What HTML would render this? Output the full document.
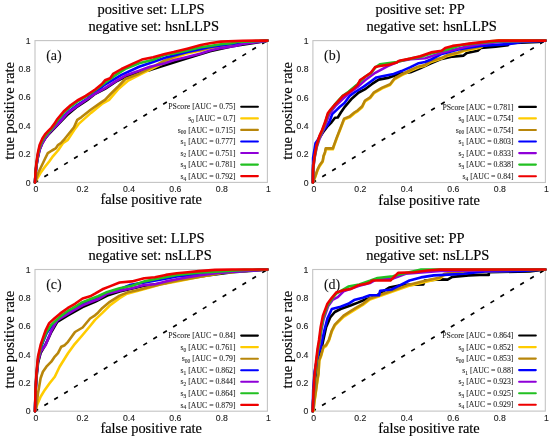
<!DOCTYPE html><html><head><meta charset="utf-8"><style>html,body{margin:0;padding:0;background:#fff;}svg{display:block;filter:blur(0.3px);}</style></head><body>
<svg width="550" height="438" viewBox="0 0 550 438">
<rect width="550" height="438" fill="#fff"/>
<text x="97.5" y="14.2" font-family="Liberation Serif" font-size="14.5" fill="#000" stroke="#000" stroke-width="0.15">positive set: LLPS</text>
<text x="88.5" y="31.3" font-family="Liberation Serif" font-size="14.5" fill="#000" stroke="#000" stroke-width="0.15">negative set: hsnLLPS</text>
<rect x="35.0" y="40.6" width="232.4" height="141.8" fill="none" stroke="#c4c4c4" stroke-width="1.1"/>
<text x="30.7" y="185.5" font-family="Liberation Sans" font-size="8.7" fill="#222" stroke="#222" stroke-width="0.12" text-anchor="end">0</text>
<text x="30.7" y="157.2" font-family="Liberation Sans" font-size="8.7" fill="#222" stroke="#222" stroke-width="0.12" text-anchor="end">0.2</text>
<text x="30.7" y="128.8" font-family="Liberation Sans" font-size="8.7" fill="#222" stroke="#222" stroke-width="0.12" text-anchor="end">0.4</text>
<text x="30.7" y="100.4" font-family="Liberation Sans" font-size="8.7" fill="#222" stroke="#222" stroke-width="0.12" text-anchor="end">0.6</text>
<text x="30.7" y="72.1" font-family="Liberation Sans" font-size="8.7" fill="#222" stroke="#222" stroke-width="0.12" text-anchor="end">0.8</text>
<text x="30.7" y="43.7" font-family="Liberation Sans" font-size="8.7" fill="#222" stroke="#222" stroke-width="0.12" text-anchor="end">1</text>
<text x="36.0" y="192.0" font-family="Liberation Sans" font-size="8.7" fill="#222" stroke="#222" stroke-width="0.12" text-anchor="middle">0</text>
<text x="82.5" y="192.0" font-family="Liberation Sans" font-size="8.7" fill="#222" stroke="#222" stroke-width="0.12" text-anchor="middle">0.2</text>
<text x="129.0" y="192.0" font-family="Liberation Sans" font-size="8.7" fill="#222" stroke="#222" stroke-width="0.12" text-anchor="middle">0.4</text>
<text x="175.4" y="192.0" font-family="Liberation Sans" font-size="8.7" fill="#222" stroke="#222" stroke-width="0.12" text-anchor="middle">0.6</text>
<text x="221.9" y="192.0" font-family="Liberation Sans" font-size="8.7" fill="#222" stroke="#222" stroke-width="0.12" text-anchor="middle">0.8</text>
<text x="268.4" y="192.0" font-family="Liberation Sans" font-size="8.7" fill="#222" stroke="#222" stroke-width="0.12" text-anchor="middle">1</text>
<text x="151.2" y="204.4" font-family="Liberation Serif" font-size="14.4" fill="#000" stroke="#000" stroke-width="0.15" text-anchor="middle">false positive rate</text>
<text transform="translate(13.8,110.8) rotate(-90)" x="0" y="0" font-family="Liberation Serif" font-size="14.55" fill="#000" stroke="#000" stroke-width="0.15" text-anchor="middle">true positive rate</text>
<text x="46.2" y="59.8" font-family="Liberation Serif" font-size="14" fill="#111" stroke="#111" stroke-width="0.1">(a)</text>
<line x1="35.0" y1="182.4" x2="267.4" y2="40.6" stroke="#000" stroke-width="1.7" stroke-dasharray="4.3 7.3" stroke-dashoffset="0.65"/>
<path d="M35.0,182.4 L35.5,174.5 L36.4,166.1 L37.8,157.6 L39.6,149.8 L42.4,143.0 L45.0,138.8 L47.8,135.2 L50.0,132.8 L58.2,124.3 L67.8,114.4 L77.3,106.6 L87.1,100.2 L95.2,93.8 L105.0,88.8 L115.9,81.7 L125.4,76.8 L139.1,71.8 L150.0,70.1 L164.9,65.3 L187.2,58.3 L210.0,51.2 L232.5,46.3 L255.8,42.7 L267.4,40.6" fill="none" stroke="#000000" stroke-width="2.6" stroke-linejoin="round" stroke-linecap="round"/>
<path d="M35.0,182.4 L37.1,178.9 L41.0,172.2 L45.0,166.8 L49.2,161.5 L53.1,156.1 L58.0,150.5 L62.9,143.2 L67.8,139.9 L74.0,130.2 L78.7,123.9 L91.0,112.9 L101.9,104.0 L109.1,99.8 L118.7,88.7 L128.2,80.5 L141.9,73.7 L153.1,68.1 L164.9,62.6 L173.7,58.3 L187.2,53.4 L200.9,50.5 L210.0,47.7 L220.9,46.0 L231.6,44.3 L244.2,42.7 L267.4,40.6" fill="none" stroke="#ffcc00" stroke-width="2.6" stroke-linejoin="round" stroke-linecap="round"/>
<path d="M35.0,182.4 L35.5,181.0 L38.5,172.2 L42.4,164.2 L45.0,158.8 L47.8,153.2 L52.0,150.5 L55.7,148.4 L58.0,145.1 L61.3,142.7 L63.6,140.2 L74.0,127.3 L77.3,119.8 L81.5,117.1 L91.0,109.5 L101.9,101.9 L105.0,99.8 L110.1,94.5 L113.1,91.5 L118.7,86.0 L125.4,79.0 L139.1,73.7 L153.1,66.7 L164.9,60.5 L173.7,56.9 L187.2,52.1 L200.9,50.0 L210.0,47.7 L220.9,46.0 L231.6,44.3 L244.2,42.7 L267.4,40.6" fill="none" stroke="#b8860b" stroke-width="2.6" stroke-linejoin="round" stroke-linecap="round"/>
<path d="M35.0,182.4 L35.5,173.9 L36.4,165.1 L37.8,156.2 L39.6,148.4 L42.4,141.7 L45.0,137.5 L47.8,134.2 L50.0,131.4 L58.2,122.9 L67.8,112.2 L77.3,105.1 L87.1,98.8 L95.2,92.4 L105.0,84.6 L121.5,74.9 L139.1,66.7 L153.1,61.9 L164.9,57.8 L187.2,51.9 L210.0,47.0 L232.5,43.7 L267.4,40.6" fill="none" stroke="#0000ff" stroke-width="2.6" stroke-linejoin="round" stroke-linecap="round"/>
<path d="M35.0,182.4 L35.5,174.5 L36.4,166.1 L37.8,157.6 L39.6,149.8 L42.4,143.0 L45.0,138.8 L47.8,134.9 L50.0,132.1 L58.2,123.9 L67.8,112.9 L77.3,106.0 L87.1,99.2 L95.2,93.7 L105.0,88.1 L115.9,81.2 L125.4,75.6 L139.1,70.8 L150.0,66.7 L160.0,64.4 L164.9,63.3 L173.7,60.3 L187.2,56.9 L200.9,53.5 L210.0,50.4 L220.9,48.1 L235.1,46.0 L242.5,43.9 L259.0,42.0 L267.4,40.6" fill="none" stroke="#8f00d8" stroke-width="2.6" stroke-linejoin="round" stroke-linecap="round"/>
<path d="M35.0,182.4 L35.5,173.1 L36.4,164.0 L37.8,154.8 L39.6,147.0 L42.4,140.3 L45.0,136.1 L47.8,132.8 L51.3,129.3 L56.8,121.5 L63.6,112.9 L70.6,106.6 L77.3,101.6 L85.7,96.6 L95.2,90.2 L105.0,82.6 L115.9,74.9 L125.4,68.8 L139.1,63.3 L153.1,59.7 L164.9,54.9 L173.7,53.4 L187.2,50.5 L200.9,47.3 L210.0,46.0 L220.9,44.3 L231.6,43.2 L237.2,42.0 L267.4,40.6" fill="none" stroke="#22c022" stroke-width="2.6" stroke-linejoin="round" stroke-linecap="round"/>
<path d="M35.0,182.4 L35.5,172.2 L36.4,162.7 L37.8,153.2 L39.6,145.1 L42.4,138.5 L45.0,134.4 L47.8,131.4 L51.3,127.8 L54.5,123.6 L56.8,119.8 L63.6,111.5 L70.6,105.3 L77.3,100.5 L85.7,95.8 L95.2,89.5 L101.9,84.0 L105.0,80.3 L110.1,78.2 L113.1,73.9 L121.5,69.0 L132.4,63.9 L141.9,59.6 L153.1,57.3 L164.9,54.1 L173.7,52.1 L187.2,48.7 L200.9,45.1 L210.0,43.2 L220.9,41.6 L242.5,40.7 L267.4,40.6" fill="none" stroke="#ee0000" stroke-width="2.6" stroke-linejoin="round" stroke-linecap="round"/>
<line x1="241.2" y1="106.8" x2="257.9" y2="106.8" stroke="#000000" stroke-width="2.1" stroke-linecap="round"/>
<text x="235.5" y="109.4" font-family="Liberation Serif" font-size="7.75" fill="#222" stroke="#222" stroke-width="0.08" text-anchor="end">PScore [AUC = 0.75]</text>
<line x1="241.2" y1="118.4" x2="257.9" y2="118.4" stroke="#ffcc00" stroke-width="2.1" stroke-linecap="round"/>
<text x="235.5" y="121.0" font-family="Liberation Serif" font-size="7.75" fill="#222" stroke="#222" stroke-width="0.08" text-anchor="end">s<tspan font-size="5.5" dy="1.8">0</tspan><tspan dy="-1.8"> [AUC = 0.7]</tspan></text>
<line x1="241.2" y1="129.9" x2="257.9" y2="129.9" stroke="#b8860b" stroke-width="2.1" stroke-linecap="round"/>
<text x="235.5" y="132.5" font-family="Liberation Serif" font-size="7.75" fill="#222" stroke="#222" stroke-width="0.08" text-anchor="end">s<tspan font-size="5.5" dy="1.8">00</tspan><tspan dy="-1.8"> [AUC = 0.715]</tspan></text>
<line x1="241.2" y1="141.5" x2="257.9" y2="141.5" stroke="#0000ff" stroke-width="2.1" stroke-linecap="round"/>
<text x="235.5" y="144.1" font-family="Liberation Serif" font-size="7.75" fill="#222" stroke="#222" stroke-width="0.08" text-anchor="end">s<tspan font-size="5.5" dy="1.8">1</tspan><tspan dy="-1.8"> [AUC = 0.777]</tspan></text>
<line x1="241.2" y1="153.0" x2="257.9" y2="153.0" stroke="#8f00d8" stroke-width="2.1" stroke-linecap="round"/>
<text x="235.5" y="155.6" font-family="Liberation Serif" font-size="7.75" fill="#222" stroke="#222" stroke-width="0.08" text-anchor="end">s<tspan font-size="5.5" dy="1.8">2</tspan><tspan dy="-1.8"> [AUC = 0.751]</tspan></text>
<line x1="241.2" y1="164.6" x2="257.9" y2="164.6" stroke="#22c022" stroke-width="2.1" stroke-linecap="round"/>
<text x="235.5" y="167.2" font-family="Liberation Serif" font-size="7.75" fill="#222" stroke="#222" stroke-width="0.08" text-anchor="end">s<tspan font-size="5.5" dy="1.8">3</tspan><tspan dy="-1.8"> [AUC = 0.781]</tspan></text>
<line x1="241.2" y1="176.1" x2="257.9" y2="176.1" stroke="#ee0000" stroke-width="2.1" stroke-linecap="round"/>
<text x="235.5" y="178.7" font-family="Liberation Serif" font-size="7.75" fill="#222" stroke="#222" stroke-width="0.08" text-anchor="end">s<tspan font-size="5.5" dy="1.8">4</tspan><tspan dy="-1.8"> [AUC = 0.792]</tspan></text>
<text x="375.4" y="14.2" font-family="Liberation Serif" font-size="14.5" fill="#000" stroke="#000" stroke-width="0.15">positive set: PP</text>
<text x="366.4" y="31.3" font-family="Liberation Serif" font-size="14.5" fill="#000" stroke="#000" stroke-width="0.15">negative set: hsnLLPS</text>
<rect x="312.9" y="40.6" width="232.5" height="141.9" fill="none" stroke="#c4c4c4" stroke-width="1.1"/>
<text x="308.6" y="185.6" font-family="Liberation Sans" font-size="8.7" fill="#222" stroke="#222" stroke-width="0.12" text-anchor="end">0</text>
<text x="308.6" y="157.2" font-family="Liberation Sans" font-size="8.7" fill="#222" stroke="#222" stroke-width="0.12" text-anchor="end">0.2</text>
<text x="308.6" y="128.8" font-family="Liberation Sans" font-size="8.7" fill="#222" stroke="#222" stroke-width="0.12" text-anchor="end">0.4</text>
<text x="308.6" y="100.5" font-family="Liberation Sans" font-size="8.7" fill="#222" stroke="#222" stroke-width="0.12" text-anchor="end">0.6</text>
<text x="308.6" y="72.1" font-family="Liberation Sans" font-size="8.7" fill="#222" stroke="#222" stroke-width="0.12" text-anchor="end">0.8</text>
<text x="308.6" y="43.7" font-family="Liberation Sans" font-size="8.7" fill="#222" stroke="#222" stroke-width="0.12" text-anchor="end">1</text>
<text x="313.9" y="192.1" font-family="Liberation Sans" font-size="8.7" fill="#222" stroke="#222" stroke-width="0.12" text-anchor="middle">0</text>
<text x="360.4" y="192.1" font-family="Liberation Sans" font-size="8.7" fill="#222" stroke="#222" stroke-width="0.12" text-anchor="middle">0.2</text>
<text x="406.9" y="192.1" font-family="Liberation Sans" font-size="8.7" fill="#222" stroke="#222" stroke-width="0.12" text-anchor="middle">0.4</text>
<text x="453.4" y="192.1" font-family="Liberation Sans" font-size="8.7" fill="#222" stroke="#222" stroke-width="0.12" text-anchor="middle">0.6</text>
<text x="499.9" y="192.1" font-family="Liberation Sans" font-size="8.7" fill="#222" stroke="#222" stroke-width="0.12" text-anchor="middle">0.8</text>
<text x="546.4" y="192.1" font-family="Liberation Sans" font-size="8.7" fill="#222" stroke="#222" stroke-width="0.12" text-anchor="middle">1</text>
<text x="429.1" y="204.5" font-family="Liberation Serif" font-size="14.4" fill="#000" stroke="#000" stroke-width="0.15" text-anchor="middle">false positive rate</text>
<text transform="translate(291.7,110.8) rotate(-90)" x="0" y="0" font-family="Liberation Serif" font-size="14.55" fill="#000" stroke="#000" stroke-width="0.15" text-anchor="middle">true positive rate</text>
<text x="324.1" y="59.8" font-family="Liberation Serif" font-size="14" fill="#111" stroke="#111" stroke-width="0.1">(b)</text>
<line x1="312.9" y1="182.5" x2="545.4" y2="40.6" stroke="#000" stroke-width="1.7" stroke-dasharray="4.3 7.3" stroke-dashoffset="0.65"/>
<path d="M312.9,182.5 L313.1,165.5 L315.5,147.0 L318.2,139.9 L322.7,132.8 L327.8,126.0 L331.5,122.3 L335.0,117.8 L337.8,117.5 L341.0,112.3 L345.0,106.6 L352.0,98.4 L358.7,92.5 L365.7,88.8 L371.7,84.2 L378.7,79.6 L387.8,77.9 L399.2,73.9 L410.5,72.2 L420.1,68.3 L431.0,63.3 L441.7,58.9 L452.6,56.6 L463.6,55.6 L466.8,52.9 L477.7,50.7 L480.8,48.0 L495.6,46.6 L508.0,45.1 L509.1,43.2 L538.4,42.0 L545.4,40.6" fill="none" stroke="#000000" stroke-width="2.6" stroke-linejoin="round" stroke-linecap="round"/>
<path d="M312.9,182.5 L313.1,182.2 L315.5,176.4 L317.5,170.4 L319.6,166.2 L322.7,161.8 L323.6,156.5 L325.0,153.0 L325.7,149.3 L332.9,149.3 L333.8,146.5 L336.8,138.2 L340.8,128.0 L344.1,119.5 L349.6,117.4 L354.3,113.4 L357.8,111.1 L362.2,107.2 L365.0,101.3 L370.1,98.2 L374.0,93.1 L382.2,88.4 L390.1,85.0 L394.5,79.3 L401.5,75.4 L410.5,70.8 L418.7,67.3 L425.0,65.7 L431.0,61.9 L441.7,58.6 L447.3,55.9 L458.2,53.2 L463.6,51.1 L480.1,47.7 L485.2,44.4 L489.6,42.2 L498.9,40.6 L545.4,40.6" fill="none" stroke="#ffcc00" stroke-width="2.6" stroke-linejoin="round" stroke-linecap="round"/>
<path d="M312.9,182.5 L313.1,181.4 L315.5,175.5 L317.5,169.6 L319.6,165.3 L322.7,160.9 L323.6,155.7 L325.0,152.1 L325.7,148.4 L332.9,148.4 L333.8,145.6 L336.8,137.4 L340.8,127.2 L344.1,118.6 L349.6,116.5 L354.3,112.5 L357.8,110.3 L362.2,106.3 L365.0,100.5 L370.1,97.4 L374.0,92.3 L382.2,87.6 L390.1,84.2 L394.5,78.5 L401.5,74.5 L410.5,70.0 L418.7,66.4 L425.0,64.9 L431.0,61.0 L441.7,57.8 L447.3,55.1 L458.2,52.4 L463.6,50.2 L480.1,46.8 L485.2,43.6 L489.6,41.3 L498.9,40.6 L545.4,40.6" fill="none" stroke="#b8860b" stroke-width="2.6" stroke-linejoin="round" stroke-linecap="round"/>
<path d="M312.9,182.5 L313.1,158.0 L315.5,143.3 L317.8,139.9 L323.1,130.6 L326.8,126.0 L329.6,121.5 L332.2,114.1 L335.9,110.6 L339.6,107.0 L344.5,103.0 L349.6,95.9 L354.3,92.5 L363.4,86.9 L370.8,81.5 L376.4,77.4 L382.2,76.2 L393.6,73.9 L401.5,71.1 L410.5,67.1 L418.7,63.2 L425.0,62.0 L431.0,59.5 L441.7,53.9 L447.3,52.4 L458.2,49.5 L466.8,48.0 L480.1,45.9 L495.6,44.9 L508.2,44.1 L522.1,42.0 L545.4,40.6" fill="none" stroke="#0000ff" stroke-width="2.6" stroke-linejoin="round" stroke-linecap="round"/>
<path d="M312.9,182.5 L313.1,170.4 L314.5,158.4 L316.6,147.7 L319.4,139.2 L322.2,132.8 L325.7,124.3 L329.2,114.4 L332.7,109.4 L336.1,105.2 L342.9,98.8 L348.5,93.8 L357.8,86.7 L365.0,80.3 L375.2,72.8 L387.8,66.1 L399.2,61.2 L410.5,59.3 L425.4,58.3 L441.7,52.7 L465.9,46.8 L480.3,44.1 L498.9,42.0 L545.4,40.6" fill="none" stroke="#8f00d8" stroke-width="2.6" stroke-linejoin="round" stroke-linecap="round"/>
<path d="M312.9,182.5 L313.1,169.7 L314.5,157.7 L316.6,146.3 L319.4,137.1 L322.2,130.7 L325.0,123.2 L327.8,114.4 L330.6,110.1 L334.5,105.0 L337.1,101.9 L342.9,95.7 L348.5,91.7 L357.8,83.9 L365.0,76.8 L370.8,73.2 L375.2,67.6 L379.9,64.3 L396.8,62.0 L410.5,58.6 L420.1,56.9 L431.0,53.4 L447.3,49.5 L461.5,45.1 L480.3,42.7 L498.9,41.3 L545.4,40.6" fill="none" stroke="#22c022" stroke-width="2.6" stroke-linejoin="round" stroke-linecap="round"/>
<path d="M312.9,182.5 L313.1,168.3 L314.5,156.5 L316.6,145.0 L319.4,136.1 L322.2,129.7 L325.0,122.3 L327.8,113.3 L330.6,109.6 L334.5,105.0 L337.1,102.3 L342.9,95.9 L348.5,92.5 L353.1,89.1 L357.8,84.6 L360.1,80.0 L365.0,76.8 L370.8,72.8 L375.2,67.1 L379.9,66.0 L387.8,64.9 L396.8,62.5 L399.2,60.7 L410.5,58.6 L420.1,56.2 L431.0,52.4 L441.7,50.7 L445.2,48.0 L452.6,45.9 L461.5,44.7 L469.1,43.6 L480.1,42.4 L489.6,41.3 L498.9,40.6 L545.4,40.6" fill="none" stroke="#ee0000" stroke-width="2.6" stroke-linejoin="round" stroke-linecap="round"/>
<line x1="519.2" y1="106.9" x2="535.9" y2="106.9" stroke="#000000" stroke-width="2.1" stroke-linecap="round"/>
<text x="513.5" y="109.5" font-family="Liberation Serif" font-size="7.75" fill="#222" stroke="#222" stroke-width="0.08" text-anchor="end">PScore [AUC = 0.781]</text>
<line x1="519.2" y1="118.4" x2="535.9" y2="118.4" stroke="#ffcc00" stroke-width="2.1" stroke-linecap="round"/>
<text x="513.5" y="121.0" font-family="Liberation Serif" font-size="7.75" fill="#222" stroke="#222" stroke-width="0.08" text-anchor="end">s<tspan font-size="5.5" dy="1.8">0</tspan><tspan dy="-1.8"> [AUC = 0.754]</tspan></text>
<line x1="519.2" y1="130.0" x2="535.9" y2="130.0" stroke="#b8860b" stroke-width="2.1" stroke-linecap="round"/>
<text x="513.5" y="132.6" font-family="Liberation Serif" font-size="7.75" fill="#222" stroke="#222" stroke-width="0.08" text-anchor="end">s<tspan font-size="5.5" dy="1.8">00</tspan><tspan dy="-1.8"> [AUC = 0.754]</tspan></text>
<line x1="519.2" y1="141.5" x2="535.9" y2="141.5" stroke="#0000ff" stroke-width="2.1" stroke-linecap="round"/>
<text x="513.5" y="144.1" font-family="Liberation Serif" font-size="7.75" fill="#222" stroke="#222" stroke-width="0.08" text-anchor="end">s<tspan font-size="5.5" dy="1.8">1</tspan><tspan dy="-1.8"> [AUC = 0.803]</tspan></text>
<line x1="519.2" y1="153.1" x2="535.9" y2="153.1" stroke="#8f00d8" stroke-width="2.1" stroke-linecap="round"/>
<text x="513.5" y="155.7" font-family="Liberation Serif" font-size="7.75" fill="#222" stroke="#222" stroke-width="0.08" text-anchor="end">s<tspan font-size="5.5" dy="1.8">2</tspan><tspan dy="-1.8"> [AUC = 0.833]</tspan></text>
<line x1="519.2" y1="164.6" x2="535.9" y2="164.6" stroke="#22c022" stroke-width="2.1" stroke-linecap="round"/>
<text x="513.5" y="167.2" font-family="Liberation Serif" font-size="7.75" fill="#222" stroke="#222" stroke-width="0.08" text-anchor="end">s<tspan font-size="5.5" dy="1.8">3</tspan><tspan dy="-1.8"> [AUC = 0.838]</tspan></text>
<line x1="519.2" y1="176.2" x2="535.9" y2="176.2" stroke="#ee0000" stroke-width="2.1" stroke-linecap="round"/>
<text x="513.5" y="178.8" font-family="Liberation Serif" font-size="7.75" fill="#222" stroke="#222" stroke-width="0.08" text-anchor="end">s<tspan font-size="5.5" dy="1.8">4</tspan><tspan dy="-1.8"> [AUC = 0.84]</tspan></text>
<text x="97.5" y="243.1" font-family="Liberation Serif" font-size="14.5" fill="#000" stroke="#000" stroke-width="0.15">positive set: LLPS</text>
<text x="88.5" y="260.2" font-family="Liberation Serif" font-size="14.5" fill="#000" stroke="#000" stroke-width="0.15">negative set: nsLLPS</text>
<rect x="35.0" y="269.5" width="232.4" height="141.7" fill="none" stroke="#c4c4c4" stroke-width="1.1"/>
<text x="30.7" y="414.3" font-family="Liberation Sans" font-size="8.7" fill="#222" stroke="#222" stroke-width="0.12" text-anchor="end">0</text>
<text x="30.7" y="386.0" font-family="Liberation Sans" font-size="8.7" fill="#222" stroke="#222" stroke-width="0.12" text-anchor="end">0.2</text>
<text x="30.7" y="357.6" font-family="Liberation Sans" font-size="8.7" fill="#222" stroke="#222" stroke-width="0.12" text-anchor="end">0.4</text>
<text x="30.7" y="329.3" font-family="Liberation Sans" font-size="8.7" fill="#222" stroke="#222" stroke-width="0.12" text-anchor="end">0.6</text>
<text x="30.7" y="300.9" font-family="Liberation Sans" font-size="8.7" fill="#222" stroke="#222" stroke-width="0.12" text-anchor="end">0.8</text>
<text x="30.7" y="272.6" font-family="Liberation Sans" font-size="8.7" fill="#222" stroke="#222" stroke-width="0.12" text-anchor="end">1</text>
<text x="36.0" y="420.8" font-family="Liberation Sans" font-size="8.7" fill="#222" stroke="#222" stroke-width="0.12" text-anchor="middle">0</text>
<text x="82.5" y="420.8" font-family="Liberation Sans" font-size="8.7" fill="#222" stroke="#222" stroke-width="0.12" text-anchor="middle">0.2</text>
<text x="129.0" y="420.8" font-family="Liberation Sans" font-size="8.7" fill="#222" stroke="#222" stroke-width="0.12" text-anchor="middle">0.4</text>
<text x="175.4" y="420.8" font-family="Liberation Sans" font-size="8.7" fill="#222" stroke="#222" stroke-width="0.12" text-anchor="middle">0.6</text>
<text x="221.9" y="420.8" font-family="Liberation Sans" font-size="8.7" fill="#222" stroke="#222" stroke-width="0.12" text-anchor="middle">0.8</text>
<text x="268.4" y="420.8" font-family="Liberation Sans" font-size="8.7" fill="#222" stroke="#222" stroke-width="0.12" text-anchor="middle">1</text>
<text x="151.2" y="433.2" font-family="Liberation Serif" font-size="14.4" fill="#000" stroke="#000" stroke-width="0.15" text-anchor="middle">false positive rate</text>
<text transform="translate(13.8,339.7) rotate(-90)" x="0" y="0" font-family="Liberation Serif" font-size="14.55" fill="#000" stroke="#000" stroke-width="0.15" text-anchor="middle">true positive rate</text>
<text x="46.2" y="288.7" font-family="Liberation Serif" font-size="14" fill="#111" stroke="#111" stroke-width="0.1">(c)</text>
<line x1="35.0" y1="411.2" x2="267.4" y2="269.5" stroke="#000" stroke-width="1.7" stroke-dasharray="4.3 7.3" stroke-dashoffset="0.65"/>
<path d="M35.0,411.2 L35.5,394.2 L36.4,378.6 L38.0,363.0 L40.6,353.1 L45.5,344.6 L51.5,331.8 L57.3,321.9 L67.5,315.6 L82.6,307.1 L95.0,301.8 L107.3,295.6 L119.6,291.5 L144.2,285.8 L165.8,283.1 L187.7,278.1 L209.3,275.2 L232.5,272.3 L267.4,269.5" fill="none" stroke="#000000" stroke-width="2.6" stroke-linejoin="round" stroke-linecap="round"/>
<path d="M35.0,411.2 L37.1,405.0 L40.6,396.7 L44.8,389.9 L49.6,383.3 L54.8,376.8 L59.6,366.7 L68.0,353.2 L73.8,345.2 L82.6,335.0 L90.1,326.0 L95.0,319.9 L102.4,312.9 L109.8,305.5 L119.6,298.1 L127.0,293.7 L138.2,290.8 L151.7,287.1 L160.0,284.5 L176.8,281.5 L197.7,277.3 L220.9,273.0 L244.2,270.9 L267.4,269.5" fill="none" stroke="#ffcc00" stroke-width="2.6" stroke-linejoin="round" stroke-linecap="round"/>
<path d="M35.0,411.2 L36.4,406.7 L38.0,393.3 L40.6,378.3 L42.9,371.7 L46.4,366.7 L51.3,361.7 L54.8,356.6 L58.0,353.2 L61.3,346.7 L64.7,345.2 L68.0,341.8 L75.0,332.0 L82.6,327.5 L90.1,318.5 L95.0,315.3 L98.0,312.7 L102.4,307.9 L109.8,301.8 L119.6,295.6 L127.0,292.6 L138.2,290.0 L151.7,286.4 L160.0,284.5 L176.8,280.8 L197.7,277.3 L220.9,273.0 L244.2,270.9 L267.4,269.5" fill="none" stroke="#b8860b" stroke-width="2.6" stroke-linejoin="round" stroke-linecap="round"/>
<path d="M35.0,411.2 L35.5,392.1 L36.4,375.8 L38.0,360.2 L40.6,348.9 L43.1,341.8 L46.6,333.3 L51.5,326.2 L60.3,317.7 L67.5,312.0 L75.0,307.8 L82.6,303.5 L90.1,300.2 L98.0,297.1 L107.3,292.9 L119.6,289.3 L129.6,285.1 L160.0,279.6 L176.8,276.4 L198.6,274.5 L215.1,272.8 L244.2,270.9 L267.4,269.5" fill="none" stroke="#0000ff" stroke-width="2.6" stroke-linejoin="round" stroke-linecap="round"/>
<path d="M35.0,411.2 L35.5,392.8 L36.4,377.2 L38.0,361.6 L40.6,351.7 L45.5,345.2 L51.5,330.6 L57.3,320.1 L67.5,314.1 L75.0,309.7 L82.6,305.4 L90.1,302.2 L98.0,299.3 L107.3,293.7 L119.6,290.8 L131.9,288.2 L144.2,285.1 L154.9,284.2 L165.8,281.4 L176.8,279.3 L187.7,277.2 L198.6,275.5 L215.1,273.3 L232.5,271.6 L256.5,270.1 L267.4,269.5" fill="none" stroke="#8f00d8" stroke-width="2.6" stroke-linejoin="round" stroke-linecap="round"/>
<path d="M35.0,411.2 L35.5,391.4 L36.4,375.1 L38.0,358.8 L40.6,347.4 L43.1,340.4 L46.6,331.8 L51.5,324.6 L60.3,316.4 L67.5,311.2 L75.0,306.8 L82.6,302.2 L90.1,299.3 L98.0,296.3 L107.3,291.9 L119.6,288.2 L131.9,285.8 L144.2,281.4 L160.0,278.3 L176.8,274.9 L198.6,272.8 L215.1,271.6 L244.2,269.9 L267.4,269.5" fill="none" stroke="#22c022" stroke-width="2.6" stroke-linejoin="round" stroke-linecap="round"/>
<path d="M35.0,411.2 L35.5,389.9 L36.4,373.4 L38.0,356.6 L40.6,345.0 L42.2,340.1 L45.5,330.6 L49.2,323.1 L54.3,318.5 L60.3,313.4 L67.5,308.2 L75.0,303.8 L82.6,298.5 L90.1,296.3 L95.0,293.7 L102.4,289.3 L109.8,286.4 L119.6,282.5 L131.9,281.4 L144.2,278.3 L154.9,277.2 L165.8,274.9 L176.8,273.3 L187.7,272.2 L198.6,271.1 L215.1,269.9 L232.5,269.5 L267.4,269.5" fill="none" stroke="#ee0000" stroke-width="2.6" stroke-linejoin="round" stroke-linecap="round"/>
<line x1="241.2" y1="335.6" x2="257.9" y2="335.6" stroke="#000000" stroke-width="2.1" stroke-linecap="round"/>
<text x="235.5" y="338.2" font-family="Liberation Serif" font-size="7.75" fill="#222" stroke="#222" stroke-width="0.08" text-anchor="end">PScore [AUC = 0.84]</text>
<line x1="241.2" y1="347.1" x2="257.9" y2="347.1" stroke="#ffcc00" stroke-width="2.1" stroke-linecap="round"/>
<text x="235.5" y="349.8" font-family="Liberation Serif" font-size="7.75" fill="#222" stroke="#222" stroke-width="0.08" text-anchor="end">s<tspan font-size="5.5" dy="1.8">0</tspan><tspan dy="-1.8"> [AUC = 0.761]</tspan></text>
<line x1="241.2" y1="358.7" x2="257.9" y2="358.7" stroke="#b8860b" stroke-width="2.1" stroke-linecap="round"/>
<text x="235.5" y="361.3" font-family="Liberation Serif" font-size="7.75" fill="#222" stroke="#222" stroke-width="0.08" text-anchor="end">s<tspan font-size="5.5" dy="1.8">00</tspan><tspan dy="-1.8"> [AUC = 0.79]</tspan></text>
<line x1="241.2" y1="370.2" x2="257.9" y2="370.2" stroke="#0000ff" stroke-width="2.1" stroke-linecap="round"/>
<text x="235.5" y="372.9" font-family="Liberation Serif" font-size="7.75" fill="#222" stroke="#222" stroke-width="0.08" text-anchor="end">s<tspan font-size="5.5" dy="1.8">1</tspan><tspan dy="-1.8"> [AUC = 0.862]</tspan></text>
<line x1="241.2" y1="381.8" x2="257.9" y2="381.8" stroke="#8f00d8" stroke-width="2.1" stroke-linecap="round"/>
<text x="235.5" y="384.4" font-family="Liberation Serif" font-size="7.75" fill="#222" stroke="#222" stroke-width="0.08" text-anchor="end">s<tspan font-size="5.5" dy="1.8">2</tspan><tspan dy="-1.8"> [AUC = 0.844]</tspan></text>
<line x1="241.2" y1="393.3" x2="257.9" y2="393.3" stroke="#22c022" stroke-width="2.1" stroke-linecap="round"/>
<text x="235.5" y="395.9" font-family="Liberation Serif" font-size="7.75" fill="#222" stroke="#222" stroke-width="0.08" text-anchor="end">s<tspan font-size="5.5" dy="1.8">3</tspan><tspan dy="-1.8"> [AUC = 0.864]</tspan></text>
<line x1="241.2" y1="404.9" x2="257.9" y2="404.9" stroke="#ee0000" stroke-width="2.1" stroke-linecap="round"/>
<text x="235.5" y="407.5" font-family="Liberation Serif" font-size="7.75" fill="#222" stroke="#222" stroke-width="0.08" text-anchor="end">s<tspan font-size="5.5" dy="1.8">4</tspan><tspan dy="-1.8"> [AUC = 0.879]</tspan></text>
<text x="375.2" y="243.1" font-family="Liberation Serif" font-size="14.5" fill="#000" stroke="#000" stroke-width="0.15">positive set: PP</text>
<text x="366.2" y="260.2" font-family="Liberation Serif" font-size="14.5" fill="#000" stroke="#000" stroke-width="0.15">negative set: nsLLPS</text>
<rect x="312.7" y="269.5" width="232.6" height="141.6" fill="none" stroke="#c4c4c4" stroke-width="1.1"/>
<text x="308.4" y="414.2" font-family="Liberation Sans" font-size="8.7" fill="#222" stroke="#222" stroke-width="0.12" text-anchor="end">0</text>
<text x="308.4" y="385.9" font-family="Liberation Sans" font-size="8.7" fill="#222" stroke="#222" stroke-width="0.12" text-anchor="end">0.2</text>
<text x="308.4" y="357.6" font-family="Liberation Sans" font-size="8.7" fill="#222" stroke="#222" stroke-width="0.12" text-anchor="end">0.4</text>
<text x="308.4" y="329.2" font-family="Liberation Sans" font-size="8.7" fill="#222" stroke="#222" stroke-width="0.12" text-anchor="end">0.6</text>
<text x="308.4" y="300.9" font-family="Liberation Sans" font-size="8.7" fill="#222" stroke="#222" stroke-width="0.12" text-anchor="end">0.8</text>
<text x="308.4" y="272.6" font-family="Liberation Sans" font-size="8.7" fill="#222" stroke="#222" stroke-width="0.12" text-anchor="end">1</text>
<text x="313.7" y="420.7" font-family="Liberation Sans" font-size="8.7" fill="#222" stroke="#222" stroke-width="0.12" text-anchor="middle">0</text>
<text x="360.2" y="420.7" font-family="Liberation Sans" font-size="8.7" fill="#222" stroke="#222" stroke-width="0.12" text-anchor="middle">0.2</text>
<text x="406.7" y="420.7" font-family="Liberation Sans" font-size="8.7" fill="#222" stroke="#222" stroke-width="0.12" text-anchor="middle">0.4</text>
<text x="453.3" y="420.7" font-family="Liberation Sans" font-size="8.7" fill="#222" stroke="#222" stroke-width="0.12" text-anchor="middle">0.6</text>
<text x="499.8" y="420.7" font-family="Liberation Sans" font-size="8.7" fill="#222" stroke="#222" stroke-width="0.12" text-anchor="middle">0.8</text>
<text x="546.3" y="420.7" font-family="Liberation Sans" font-size="8.7" fill="#222" stroke="#222" stroke-width="0.12" text-anchor="middle">1</text>
<text x="429.0" y="433.1" font-family="Liberation Serif" font-size="14.4" fill="#000" stroke="#000" stroke-width="0.15" text-anchor="middle">false positive rate</text>
<text transform="translate(291.5,339.6) rotate(-90)" x="0" y="0" font-family="Liberation Serif" font-size="14.55" fill="#000" stroke="#000" stroke-width="0.15" text-anchor="middle">true positive rate</text>
<text x="323.9" y="288.7" font-family="Liberation Serif" font-size="14" fill="#111" stroke="#111" stroke-width="0.1">(d)</text>
<line x1="312.7" y1="411.1" x2="545.3" y2="269.5" stroke="#000" stroke-width="1.7" stroke-dasharray="4.3 7.3" stroke-dashoffset="0.65"/>
<path d="M312.7,411.1 L313.4,396.9 L315.5,377.1 L318.5,360.1 L320.8,350.2 L322.2,345.1 L326.0,327.6 L330.4,317.1 L334.8,312.0 L340.6,309.0 L351.1,305.3 L358.5,302.4 L366.0,299.2 L374.1,297.1 L389.2,287.5 L399.2,285.6 L406.9,284.9 L423.4,284.4 L424.8,280.5 L439.9,279.4 L447.6,279.6 L452.3,276.9 L468.8,275.4 L479.7,274.9 L488.8,274.9 L488.8,272.2 L529.7,271.5 L545.3,269.5" fill="none" stroke="#000000" stroke-width="2.6" stroke-linejoin="round" stroke-linecap="round"/>
<path d="M312.7,411.1 L313.4,411.1 L314.3,402.9 L316.0,391.1 L317.6,379.4 L318.5,374.4 L319.2,361.1 L321.1,356.2 L323.4,347.8 L326.0,346.2 L329.0,340.6 L331.8,331.7 L334.8,325.7 L339.2,321.2 L343.6,316.8 L348.3,313.8 L355.5,309.3 L362.9,304.9 L369.9,299.5 L382.7,295.0 L395.5,290.6 L408.3,286.1 L420.9,283.0 L439.9,278.6 L444.4,274.9 L460.6,272.6 L498.8,271.3 L545.3,269.5" fill="none" stroke="#ffcc00" stroke-width="2.6" stroke-linejoin="round" stroke-linecap="round"/>
<path d="M312.7,411.1 L313.4,410.0 L314.3,401.8 L316.0,390.0 L317.6,378.2 L318.5,373.3 L319.2,360.0 L321.1,355.0 L323.4,346.7 L326.0,345.1 L329.0,339.5 L331.8,330.5 L334.8,324.6 L339.2,320.1 L343.6,315.7 L348.3,312.7 L355.5,308.2 L362.9,303.8 L369.9,298.4 L382.7,293.9 L395.5,289.5 L408.3,284.9 L420.9,281.8 L439.9,277.4 L444.4,273.7 L460.6,271.5 L498.8,270.2 L545.3,269.5" fill="none" stroke="#b8860b" stroke-width="2.6" stroke-linejoin="round" stroke-linecap="round"/>
<path d="M312.7,411.1 L313.2,389.9 L314.6,371.5 L317.4,357.3 L319.7,350.2 L321.3,345.1 L324.3,330.5 L327.4,318.6 L331.8,309.0 L340.6,306.7 L348.3,303.8 L354.1,300.1 L362.9,297.8 L369.9,295.3 L379.0,295.3 L380.2,290.7 L391.6,289.5 L399.2,285.6 L409.5,280.5 L420.9,277.4 L433.7,275.4 L444.4,274.9 L463.9,273.7 L485.1,271.5 L522.0,270.9 L545.3,269.5" fill="none" stroke="#0000ff" stroke-width="2.6" stroke-linejoin="round" stroke-linecap="round"/>
<path d="M312.7,411.1 L313.4,396.9 L314.6,380.7 L316.2,364.4 L317.8,351.6 L319.7,343.1 L321.3,330.4 L323.6,319.1 L328.1,306.3 L332.5,299.9 L337.8,297.1 L343.6,291.4 L359.2,285.8 L369.9,283.0 L377.6,278.6 L392.9,278.6 L405.7,273.7 L440.6,270.9 L545.3,269.5" fill="none" stroke="#8f00d8" stroke-width="2.6" stroke-linejoin="round" stroke-linecap="round"/>
<path d="M312.7,411.1 L313.4,396.9 L314.6,379.9 L316.2,363.7 L317.8,350.2 L319.4,341.7 L321.1,329.0 L323.4,316.9 L327.8,304.9 L332.2,298.5 L336.2,293.6 L343.6,289.3 L348.3,286.6 L359.2,284.4 L369.9,280.8 L377.6,278.0 L392.9,276.2 L400.6,274.2 L421.1,269.6 L545.3,269.5" fill="none" stroke="#22c022" stroke-width="2.6" stroke-linejoin="round" stroke-linecap="round"/>
<path d="M312.7,411.1 L313.4,395.0 L314.3,378.2 L316.0,361.7 L317.6,348.4 L319.0,340.0 L320.6,327.6 L322.9,315.7 L327.4,303.8 L331.8,297.8 L336.2,292.6 L343.6,290.3 L351.1,288.9 L358.5,285.2 L366.0,283.7 L369.9,282.4 L372.5,280.5 L390.4,280.5 L398.1,272.9 L414.6,272.3 L427.4,270.5 L439.9,269.6 L545.3,269.5" fill="none" stroke="#ee0000" stroke-width="2.6" stroke-linejoin="round" stroke-linecap="round"/>
<line x1="519.1" y1="335.5" x2="535.8" y2="335.5" stroke="#000000" stroke-width="2.1" stroke-linecap="round"/>
<text x="513.4" y="338.1" font-family="Liberation Serif" font-size="7.75" fill="#222" stroke="#222" stroke-width="0.08" text-anchor="end">PScore [AUC = 0.864]</text>
<line x1="519.1" y1="347.1" x2="535.8" y2="347.1" stroke="#ffcc00" stroke-width="2.1" stroke-linecap="round"/>
<text x="513.4" y="349.7" font-family="Liberation Serif" font-size="7.75" fill="#222" stroke="#222" stroke-width="0.08" text-anchor="end">s<tspan font-size="5.5" dy="1.8">0</tspan><tspan dy="-1.8"> [AUC = 0.852]</tspan></text>
<line x1="519.1" y1="358.6" x2="535.8" y2="358.6" stroke="#b8860b" stroke-width="2.1" stroke-linecap="round"/>
<text x="513.4" y="361.2" font-family="Liberation Serif" font-size="7.75" fill="#222" stroke="#222" stroke-width="0.08" text-anchor="end">s<tspan font-size="5.5" dy="1.8">00</tspan><tspan dy="-1.8"> [AUC = 0.853]</tspan></text>
<line x1="519.1" y1="370.1" x2="535.8" y2="370.1" stroke="#0000ff" stroke-width="2.1" stroke-linecap="round"/>
<text x="513.4" y="372.8" font-family="Liberation Serif" font-size="7.75" fill="#222" stroke="#222" stroke-width="0.08" text-anchor="end">s<tspan font-size="5.5" dy="1.8">1</tspan><tspan dy="-1.8"> [AUC = 0.88]</tspan></text>
<line x1="519.1" y1="381.7" x2="535.8" y2="381.7" stroke="#8f00d8" stroke-width="2.1" stroke-linecap="round"/>
<text x="513.4" y="384.3" font-family="Liberation Serif" font-size="7.75" fill="#222" stroke="#222" stroke-width="0.08" text-anchor="end">s<tspan font-size="5.5" dy="1.8">2</tspan><tspan dy="-1.8"> [AUC = 0.923]</tspan></text>
<line x1="519.1" y1="393.2" x2="535.8" y2="393.2" stroke="#22c022" stroke-width="2.1" stroke-linecap="round"/>
<text x="513.4" y="395.9" font-family="Liberation Serif" font-size="7.75" fill="#222" stroke="#222" stroke-width="0.08" text-anchor="end">s<tspan font-size="5.5" dy="1.8">3</tspan><tspan dy="-1.8"> [AUC = 0.925]</tspan></text>
<line x1="519.1" y1="404.8" x2="535.8" y2="404.8" stroke="#ee0000" stroke-width="2.1" stroke-linecap="round"/>
<text x="513.4" y="407.4" font-family="Liberation Serif" font-size="7.75" fill="#222" stroke="#222" stroke-width="0.08" text-anchor="end">s<tspan font-size="5.5" dy="1.8">4</tspan><tspan dy="-1.8"> [AUC = 0.929]</tspan></text>
</svg></body></html>
